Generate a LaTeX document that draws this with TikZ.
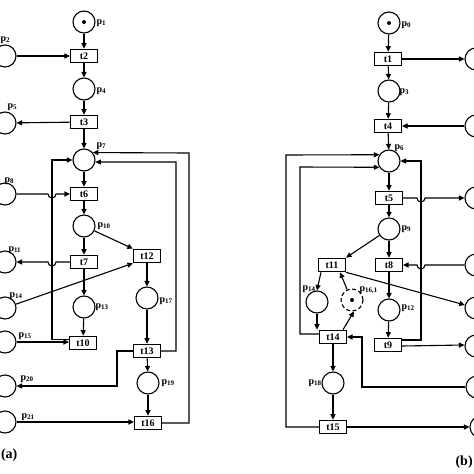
\documentclass[tikz,border=0pt]{standalone}
\usepackage{fontspec}
\setmainfont{Liberation Serif}
\usetikzlibrary{arrows.meta}
\begin{document}
\begin{tikzpicture}[x=1pt,y=-1pt,
  line width=1.1pt,
  place/.style={circle,draw,minimum size=22pt,inner sep=0pt},
  trans/.style={rectangle,draw,minimum width=27pt,minimum height=13.5pt,inner sep=0pt,font=\bfseries\fontsize{10}{10}\selectfont},
  lbl/.style={anchor=west,inner sep=0pt,font=\bfseries\fontsize{10}{10}\selectfont},
  panelcap/.style={anchor=west,inner sep=0pt,font=\bfseries\fontsize{14}{14}\selectfont},
  arr/.style={-{Triangle[length=5.5pt,width=5pt]}},
  tok/.style={fill,circle,inner sep=0pt,minimum size=4pt}]
\useasboundingbox (0,0) rectangle (474,474);
% ---------------- panel (a)
\node[place] (p1) at (84,22) {};
\node[tok] (k1) at (p1) {};
\node[trans] (t2) at (84,56) {t2};
\node[place] (p2) at (5,56) {};
\node[place] (p4) at (84,89) {};
\node[trans] (t3) at (84,122) {t3};
\node[place] (p5) at (5,123) {};
\node[place] (p7) at (84,160) {};
\node[trans] (t6) at (84,194) {t6};
\node[place] (p8) at (5,194) {};
\node[place] (p10) at (84,226) {};
\node[trans] (t7) at (84,262) {t7};
\node[place] (p11) at (5,262) {};
\node[trans] (t12) at (147,256) {t12};
\node[place] (p14) at (5,308) {};
\node[place] (p13) at (84,307) {};
\node[trans] (t10) at (83,343) {t10};
\node[place] (p15) at (5,342) {};
\node[place] (p17) at (147,298) {};
\node[trans] (t13) at (147,351) {t13};
\node[place] (p20) at (5,386) {};
\node[place] (p19) at (148,383) {};
\node[trans] (t16) at (148,423) {t16};
\node[place] (p21) at (5,422) {};
% labels (a)
\node[lbl] (l1) at (96,23) {p\textsubscript{1}};
\node[lbl] (l2) at (0,40) {p\textsubscript{2}};
\node[lbl] (l4) at (96,91) {p\textsubscript{4}};
\node[lbl] (l5) at (7,107) {p\textsubscript{5}};
\node[lbl] (l7) at (96,146) {p\textsubscript{7}};
\node[lbl] (l8) at (4,181) {p\textsubscript{8}};
\node[lbl] (l10) at (97,226) {p\textsubscript{10}};
\node[lbl] (l11) at (8,250) {p\textsubscript{11}};
\node[lbl] (l14) at (9,296) {p\textsubscript{14}};
\node[lbl] (l13) at (95,307) {p\textsubscript{13}};
\node[lbl] (l15) at (18,336) {p\textsubscript{15}};
\node[lbl] (l17) at (159,301) {p\textsubscript{17}};
\node[lbl] (l20) at (20,379) {p\textsubscript{20}};
\node[lbl] (l21) at (21,417) {p\textsubscript{21}};
\node[lbl] (l19) at (161,383) {p\textsubscript{19}};
\node[panelcap] (la) at (0.5,455) {(a)};
% arcs (a)
\draw[arr] (p1) -- (t2);
\draw[arr] (t2) -- (p4);
\draw[arr] (p4) -- (t3);
\draw[arr] (t3) -- (p7);
\draw[arr] (p7) -- (t6);
\draw[arr] (t6) -- (p10);
\draw[arr] (p10) -- (t7);
\draw[arr] (t7) -- (p13);
\draw[arr] (p13) -- (t10);
\draw[arr] (p10) -- (t12.north west);
\draw[arr] (t12) -- (p17);
\draw[arr] (p17) -- (t13);
\draw[arr] (t13) -- (p19);
\draw[arr] (p19) -- (t16);
\draw[arr] (p2) -- (t2);
\draw[arr] (t3) -- (p5);
\draw[arr] (p8.east) -- (48,194) arc[start angle=180,end angle=0,radius=4] -- (t6.west);
\draw[arr] (t7.west) -- (56,262) arc[start angle=0,end angle=180,radius=4] -- (p11.east);
\draw[arr] (p14) -- (t12.south west);
\draw[arr] (p15.east) -- (p15.east -| t10.west);
\draw[arr] ([yshift=3.5pt]t10.west) -- (52,339.5) -- (52,160) -- (p7.west);
\draw[arr] (t13.east) -- (176,351) -- (176,162) -- (p7.-10);
\draw[arr] (t16.east) -- (189,423) -- (189,153) -- (p7.40);
\draw[arr] (t13.west) -- (117,351) -- (117,386) -- (p20.east);
\draw[arr] (p21.east) -- (p21.east -| t16.west);
% ---------------- panel (b)
\node[place] (p0) at (389,23) {};
\node[tok] (k0) at (p0) {};
\node[trans] (t1) at (388,59) {t1};
\node[place] (r1) at (476,59) {};
\node[place] (p3) at (389,91) {};
\node[trans] (t4) at (388,126) {t4};
\node[place] (r2) at (476,126) {};
\node[place] (p6) at (389,161) {};
\node[trans] (t5) at (389,198) {t5};
\node[place] (r3) at (476,198) {};
\node[place] (p9) at (389,229) {};
\node[trans] (t8) at (389,265) {t8};
\node[place] (r4) at (476,265) {};
\node[trans] (t11) at (332,265) {t11};
\node[place] (q14) at (317,302) {};
\node[place,dashed,dash pattern=on 4pt off 2.5pt] (p161) at (352,300) {};
\node[tok] (k161) at (p161) {};
\node[place] (p12) at (389,310) {};
\node[trans] (t9) at (388,345) {t9};
\node[place] (r5) at (476,308) {};
\node[place] (r6) at (476,346) {};
\node[trans] (t14) at (333,337) {t14};
\node[place] (r7) at (477,387) {};
\node[place] (p18) at (333,383) {};
\node[trans] (t15) at (333,427) {t15};
\node[place] (r8) at (481,427) {};
% labels (b)
\node[lbl] (m0) at (401,25) {p\textsubscript{0}};
\node[lbl] (m3) at (399,92) {p\textsubscript{3}};
\node[lbl] (m6) at (394,148) {p\textsubscript{6}};
\node[lbl] (m9) at (401,229) {p\textsubscript{9}};
\node[lbl] (m12) at (401,308) {p\textsubscript{12}};
\node[lbl] (m14) at (302,289) {p\textsubscript{14}};
\node[lbl] (m161) at (359,290) {p\textsubscript{16,1}};
\node[lbl] (m18) at (308,383) {p\textsubscript{18}};
\node[panelcap] (lb) at (455,462) {(b)};
% arcs (b)
\draw[arr] (p0) -- (t1);
\draw[arr] (t1) -- (p3);
\draw[arr] (p3) -- (t4);
\draw[arr] (t4) -- (p6);
\draw[arr] (p6) -- (t5);
\draw[arr] (t5) -- (p9);
\draw[arr] (p9) -- (t8);
\draw[arr] (t8) -- (p12);
\draw[arr] (p12) -- (t9);
\draw[arr] (t14) -- (p18);
\draw[arr] (p18) -- (t15);
\draw[arr] (t1) -- (r1);
\draw[arr] (r2) -- (t4);
\draw[arr] (t5.east) -- (417,198) arc[start angle=180,end angle=0,radius=4] -- (r3.west);
\draw[arr] (r4.west) -- (425,265) arc[start angle=0,end angle=180,radius=4] -- (t8.east);
\draw[arr] (p9) -- (t11.north east);
\draw[arr] (t11.south east) -- (r5);
\draw[arr] ([xshift=3pt]t11.south west) -- (q14.north);
\draw[arr] (p161.115) -- ([xshift=8pt]t11.south);
\draw[arr] ([xshift=10pt]t14.north) -- (p161.-80);
\draw[arr] (q14.south) -- (q14.south |- t14.north);
\draw[arr] (r7.west) -- (362,387) -- (362,337) -- (t14.east);
\draw[arr] ([yshift=3pt]t14.west) -- (300,334) -- (300,167) -- (p6.213);
\draw[arr] (t15.west) -- (286,427) -- (286,155) -- (p6.147);
\draw[arr] ([yshift=5pt]t9.east) -- (421,340) -- (421,161) -- (p6.east);
\draw[arr] ([yshift=-1pt]t9.east) -- (r6.west |- t9.east);
\draw[arr] (t15) -- (r8);
\end{tikzpicture}
\end{document}
